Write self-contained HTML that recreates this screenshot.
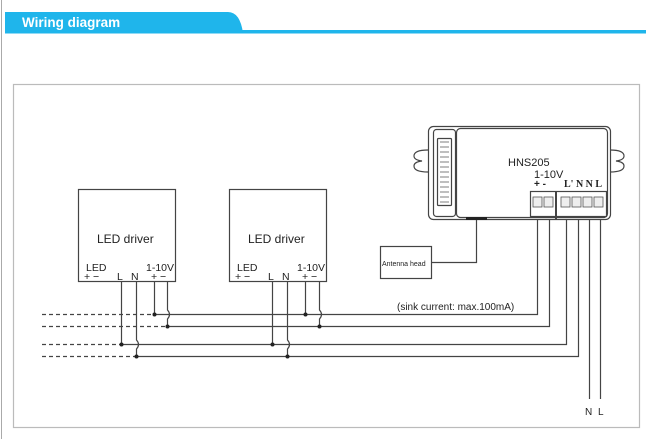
<!DOCTYPE html>
<html><head><meta charset="utf-8"><style>
body{margin:0;width:646px;height:439px;background:#fff;overflow:hidden}
svg{display:block}
text{font-family:"Liberation Sans","DejaVu Sans",sans-serif;fill:#222}
</style></head><body>
<svg width="646" height="439" viewBox="0 0 646 439">
<line x1="1.5" y1="0" x2="1.5" y2="439" stroke="#aaa" stroke-width="1"/>
<!-- header -->
<rect x="5" y="30" width="641" height="3.5" fill="#1fb5eb"/>
<path d="M5 12 H228 Q240 12 243 33 H5 Z" fill="#1fb5eb"/>
<text x="22" y="27" font-size="13.5" font-weight="bold" style="fill:#fff">Wiring diagram</text>
<!-- frame -->
<rect x="13.5" y="84.5" width="626" height="343" fill="none" stroke="#bbb" stroke-width="1.2"/>
<g stroke="#444" stroke-width="1.2" fill="none">
<!-- drivers -->
<rect x="78.5" y="189.5" width="97" height="92"/>
<rect x="229.5" y="189.5" width="97" height="92"/>
<!-- bus lines dashed -->
<g stroke-dasharray="4,3">
<line x1="42" y1="314.5" x2="154" y2="314.5"/>
<line x1="42" y1="326.5" x2="167" y2="326.5"/>
<line x1="42" y1="344.5" x2="121" y2="344.5"/>
<line x1="42" y1="356.5" x2="136" y2="356.5"/>
</g>
<polyline points="154,314.5 537.5,314.5 537.5,219"/>
<polyline points="167,326.5 549.5,326.5 549.5,219"/>
<polyline points="121,344.5 566.5,344.5 566.5,219"/>
<polyline points="136,356.5 578.5,356.5 578.5,219"/>
<line x1="589.5" y1="219" x2="589.5" y2="399"/>
<line x1="600.5" y1="219" x2="600.5" y2="399"/>
<!-- driver drops -->
<line x1="121.5" y1="281" x2="121.5" y2="344.5"/>
<path d="M136.5 281 V340 q4 4.5 0 9 V356.5"/>
<line x1="154.5" y1="281" x2="154.5" y2="314.5"/>
<path d="M167.5 281 V310 q4 4.5 0 9 V326.5"/>
<line x1="272.5" y1="281" x2="272.5" y2="344.5"/>
<path d="M287.5 281 V340 q4 4.5 0 9 V356.5"/>
<line x1="305.5" y1="281" x2="305.5" y2="314.5"/>
<path d="M319.5 281 V310 q4 4.5 0 9 V326.5"/>
<!-- antenna -->
<rect x="380.5" y="246.5" width="51" height="32"/>
<polyline points="476.5,219 476.5,262.5 431,262.5"/>
<!-- module -->
<path d="M428 150 q-14 0 -14 6 q0 4 8 5 q-8 1 -8 5 q0 6 14 6"/>
<path d="M610 150 q14 0 14 6 q0 4 -8 5 q8 1 8 5 q0 6 -14 6"/>
<rect x="428.5" y="126.5" width="182" height="93" rx="5"/>
<rect x="433.5" y="129.5" width="22" height="87" rx="3"/>
<rect x="456.5" y="128.5" width="151" height="89" rx="4"/>
<rect x="437.5" y="138.5" width="14" height="67" rx="1"/>
<rect x="530.5" y="191.5" width="76" height="25"/>
<line x1="556" y1="191" x2="556" y2="219" stroke-width="2"/>
</g>
<g fill="#222">
<circle cx="154.5" cy="314.5" r="2"/><circle cx="167.5" cy="326.5" r="2"/>
<circle cx="121.5" cy="344.5" r="2"/><circle cx="136.5" cy="356.5" r="2"/>
<circle cx="305.5" cy="314.5" r="2"/><circle cx="319.5" cy="326.5" r="2"/>
<circle cx="272.5" cy="344.5" r="2"/><circle cx="287.5" cy="356.5" r="2"/>
<rect x="466" y="217" width="21" height="3"/>
</g>
<g stroke="#555" stroke-width="0.8" fill="#eee">
<rect x="533" y="197" width="9" height="10"/><rect x="544" y="197" width="9" height="10"/>
<rect x="561" y="197" width="9" height="10"/><rect x="572" y="197" width="9" height="10"/>
<rect x="583" y="197" width="9" height="10"/><rect x="594" y="197" width="9" height="10"/>
</g>
<g stroke="#555" stroke-width="0.8" fill="none">
<path d="M440 142h9M440 147h9M440 152h9M440 157h9M440 162h9M440 167h9M440 172h9M440 177h9M440 182h9M440 187h9M440 192h9M440 197h9M440 202h9"/>
</g>
<!-- labels -->
<text x="97" y="243" font-size="12">LED driver</text>
<text x="248" y="243" font-size="12">LED driver</text>
<g font-size="10.5">
<text x="86" y="271">LED</text><text x="146" y="271">1-10V</text>
<text x="237" y="271">LED</text><text x="297" y="271">1-10V</text>
<text x="84" y="280">+ −</text><text x="117" y="280">L</text><text x="131" y="280">N</text><text x="151" y="280">+ −</text>
<text x="235" y="280">+ −</text><text x="268" y="280">L</text><text x="282" y="280">N</text><text x="302" y="280">+ −</text>
</g>
<text x="382" y="266" font-size="7">Antenna head</text>
<text x="397" y="310" font-size="10">(sink current: max.100mA)</text>
<text x="508" y="166" font-size="11">HNS205</text>
<text x="534" y="178" font-size="11">1-10V</text>
<text x="534" y="187" font-size="10" font-weight="bold">+  -</text>
<text x="564" y="187" font-family="Liberation Serif" font-size="10" font-weight="bold" style="font-family:'Liberation Serif',serif">L' N N L</text>
<text x="585" y="415" font-size="10">N</text>
<text x="598" y="415" font-size="10">L</text>
</svg>
</body></html>
